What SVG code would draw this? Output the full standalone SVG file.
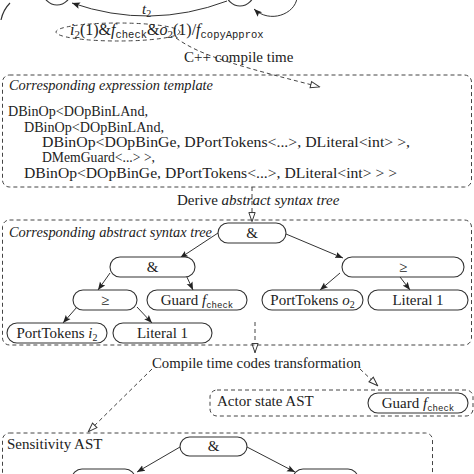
<svg xmlns="http://www.w3.org/2000/svg" width="474" height="474" viewBox="0 0 474 474">
<defs>
<marker id="fa" viewBox="0 0 10 10" refX="10" refY="5" markerWidth="8" markerHeight="8" orient="auto" markerUnits="userSpaceOnUse">
<path d="M0,1 L10,5 L0,9 L2,5 z" fill="#222"/>
</marker>
<marker id="oa" viewBox="0 0 12 10" refX="11.5" refY="5" markerWidth="11" markerHeight="9" orient="auto" markerUnits="userSpaceOnUse">
<path d="M1,1.5 L11,5 L1,8.5 z" fill="#fff" stroke="#333" stroke-width="1.1"/>
</marker>
</defs>
<style>
text{font-family:"Liberation Serif","Times New Roman",serif;fill:#222;font-size:15px}
.it{font-style:italic}
.tt{font-family:"Liberation Mono","Courier New",monospace;font-size:9px}
.sb{font-size:10px}
.lab{font-size:16px}
.lab .tt{font-size:10.5px}
.lab .sb{font-size:11px}
.box{fill:none;stroke:#444;stroke-width:1;stroke-dasharray:4 3}
.node rect{fill:#fff;stroke:#333;stroke-width:1.1}
.node text{text-anchor:middle}
.e{stroke:#333;stroke-width:1;fill:none;marker-end:url(#fa)}
.d{stroke:#444;stroke-width:1;fill:none;stroke-dasharray:4 3;marker-end:url(#oa)}
.s{stroke:#333;stroke-width:1.2;fill:none}
</style>

<!-- top state machine fragment -->
<g id="stateLeft"><circle class="s" cx="57" cy="-9" r="14"/></g>
<g id="stateRight"><circle class="s" cx="240" cy="-8" r="14"/></g>
<g id="connectors">
<path class="e" d="M227,1 Q150,30 72,3"/>
<path class="e" d="M297,-2 C295,14 270,24 254,9"/>
<path class="s" d="M10,3 Q3,10 1,20"/>
<path class="d" d="M176,38 C200,55 230,64 320,87"/>
<path class="d" d="M252,187 L252,222"/>
<!-- AST edges -->
<path class="e" d="M218,233 L180,258"/>
<path class="e" d="M286,234 L343,258"/>
<path class="e" d="M110,273 L98,290"/>
<path class="e" d="M185,273 L193,290"/>
<path class="e" d="M340,273 L320,290"/>
<path class="e" d="M397,273 L410,290"/>
<path class="e" d="M77,307 L63,323"/>
<path class="e" d="M137,307 L152,323"/>
<path class="d" d="M255,322 L255,353"/>
<path class="d" d="M360,369 L378,386"/>
<path class="d" d="M152,369 L88,432"/>
<path class="e" d="M180,447 L137,472"/>
<path class="e" d="M247,447 L295,472"/>
</g>

<g id="t2label"><text x="142" y="14" class="it">t<tspan class="sb" dy="3" style="font-style:normal">2</tspan></text></g>
<g id="guardEllipse">
<ellipse class="box" cx="118" cy="32" rx="62" ry="9"/>
<text x="70" y="35" class="lab"><tspan class="it">i</tspan><tspan class="sb" dy="3">2</tspan><tspan dy="-3">(1)&amp;</tspan><tspan class="it">f</tspan><tspan class="tt" dy="3">check</tspan><tspan dy="-3">&amp;</tspan><tspan class="it">o</tspan><tspan class="sb" dy="3">2</tspan><tspan dy="-3">(1)/</tspan><tspan class="it">f</tspan><tspan class="tt" dy="3">copyApprox</tspan></text>
</g>
<text x="184" y="62">C++ compile time</text>

<!-- expression template box -->
<g id="exprTemplate">
<rect class="box" x="2.5" y="75" width="469" height="112" rx="7"/>
<text x="9" y="90" class="it" textLength="204" lengthAdjust="spacingAndGlyphs">Corresponding expression template</text>
<text x="8" y="116" textLength="140" lengthAdjust="spacingAndGlyphs">DBinOp&lt;DOpBinLAnd,</text>
<text x="24" y="132" textLength="140" lengthAdjust="spacingAndGlyphs">DBinOp&lt;DOpBinLAnd,</text>
<text x="42" y="147" textLength="368" lengthAdjust="spacingAndGlyphs">DBinOp&lt;DOpBinGe, DPortTokens&lt;...&gt;, DLiteral&lt;int&gt; &gt;,</text>
<text x="42" y="162" textLength="113" lengthAdjust="spacingAndGlyphs">DMemGuard&lt;...&gt; &gt;,</text>
<text x="24" y="178" textLength="373" lengthAdjust="spacingAndGlyphs">DBinOp&lt;DOpBinGe, DPortTokens&lt;...&gt;, DLiteral&lt;int&gt; &gt; &gt;</text>
</g>

<text x="177" y="205">Derive <tspan class="it">abstract syntax tree</tspan></text>

<!-- AST box -->
<g id="astBox">
<rect class="box" x="2.5" y="220" width="469" height="125" rx="7"/>
<text x="9" y="237" class="it" textLength="203" lengthAdjust="spacingAndGlyphs">Corresponding abstract syntax tree</text>
</g>
<g id="n_and_root" class="node"><rect x="218" y="223" width="68" height="20" rx="10"/><text x="252" y="238">&amp;</text></g>
<g id="n_and_left" class="node"><rect x="110" y="257" width="85" height="20" rx="10"/><text x="152.5" y="272">&amp;</text></g>
<g id="n_ge_right" class="node"><rect x="342" y="257" width="122" height="20" rx="10"/><text x="403" y="272">≥</text></g>
<g id="n_ge_left" class="node"><rect x="73" y="290" width="64" height="20" rx="10"/><text x="105" y="305">≥</text></g>
<g id="n_guard" class="node"><rect x="147" y="290" width="100" height="20" rx="10"/><text x="197" y="305">Guard <tspan class="it">f</tspan><tspan class="tt" dy="3">check</tspan></text></g>
<g id="n_pt_o2" class="node"><rect x="262" y="290" width="101" height="20" rx="10"/><text x="312.5" y="305">PortTokens <tspan class="it">o</tspan><tspan class="sb" dy="3">2</tspan></text></g>
<g id="n_lit_r" class="node"><rect x="368" y="290" width="100" height="20" rx="10"/><text x="418" y="305">Literal 1</text></g>
<g id="n_pt_i2" class="node"><rect x="7" y="323" width="100" height="20" rx="10"/><text x="57" y="338">PortTokens <tspan class="it">i</tspan><tspan class="sb" dy="3">2</tspan></text></g>
<g id="n_lit_l" class="node"><rect x="113" y="323" width="99" height="20" rx="10"/><text x="162.5" y="338">Literal 1</text></g>

<text x="152" y="368" textLength="209" lengthAdjust="spacingAndGlyphs">Compile time codes transformation</text>

<!-- actor state AST -->
<g id="actorState">
<rect class="box" x="210" y="390" width="263" height="26" rx="7"/>
<text x="217" y="406">Actor state AST</text>
</g>
<g id="n_guard2" class="node"><rect x="368" y="393" width="100" height="20" rx="10"/><text x="418" y="408">Guard <tspan class="it">f</tspan><tspan class="tt" dy="3">check</tspan></text></g>

<!-- sensitivity AST -->
<g id="sensitivity">
<rect class="box" x="2.5" y="433" width="430" height="60" rx="7"/>
<text x="7" y="449">Sensitivity AST</text>
</g>
<g id="s_and" class="node"><rect x="180" y="437" width="67" height="19" rx="9.5"/><text x="213.5" y="451">&amp;</text></g>
<g id="s_left" class="node"><rect x="72" y="469" width="63" height="20" rx="10"/></g>
<g id="s_right" class="node"><rect x="293" y="469" width="65" height="20" rx="10"/></g>
</svg>
